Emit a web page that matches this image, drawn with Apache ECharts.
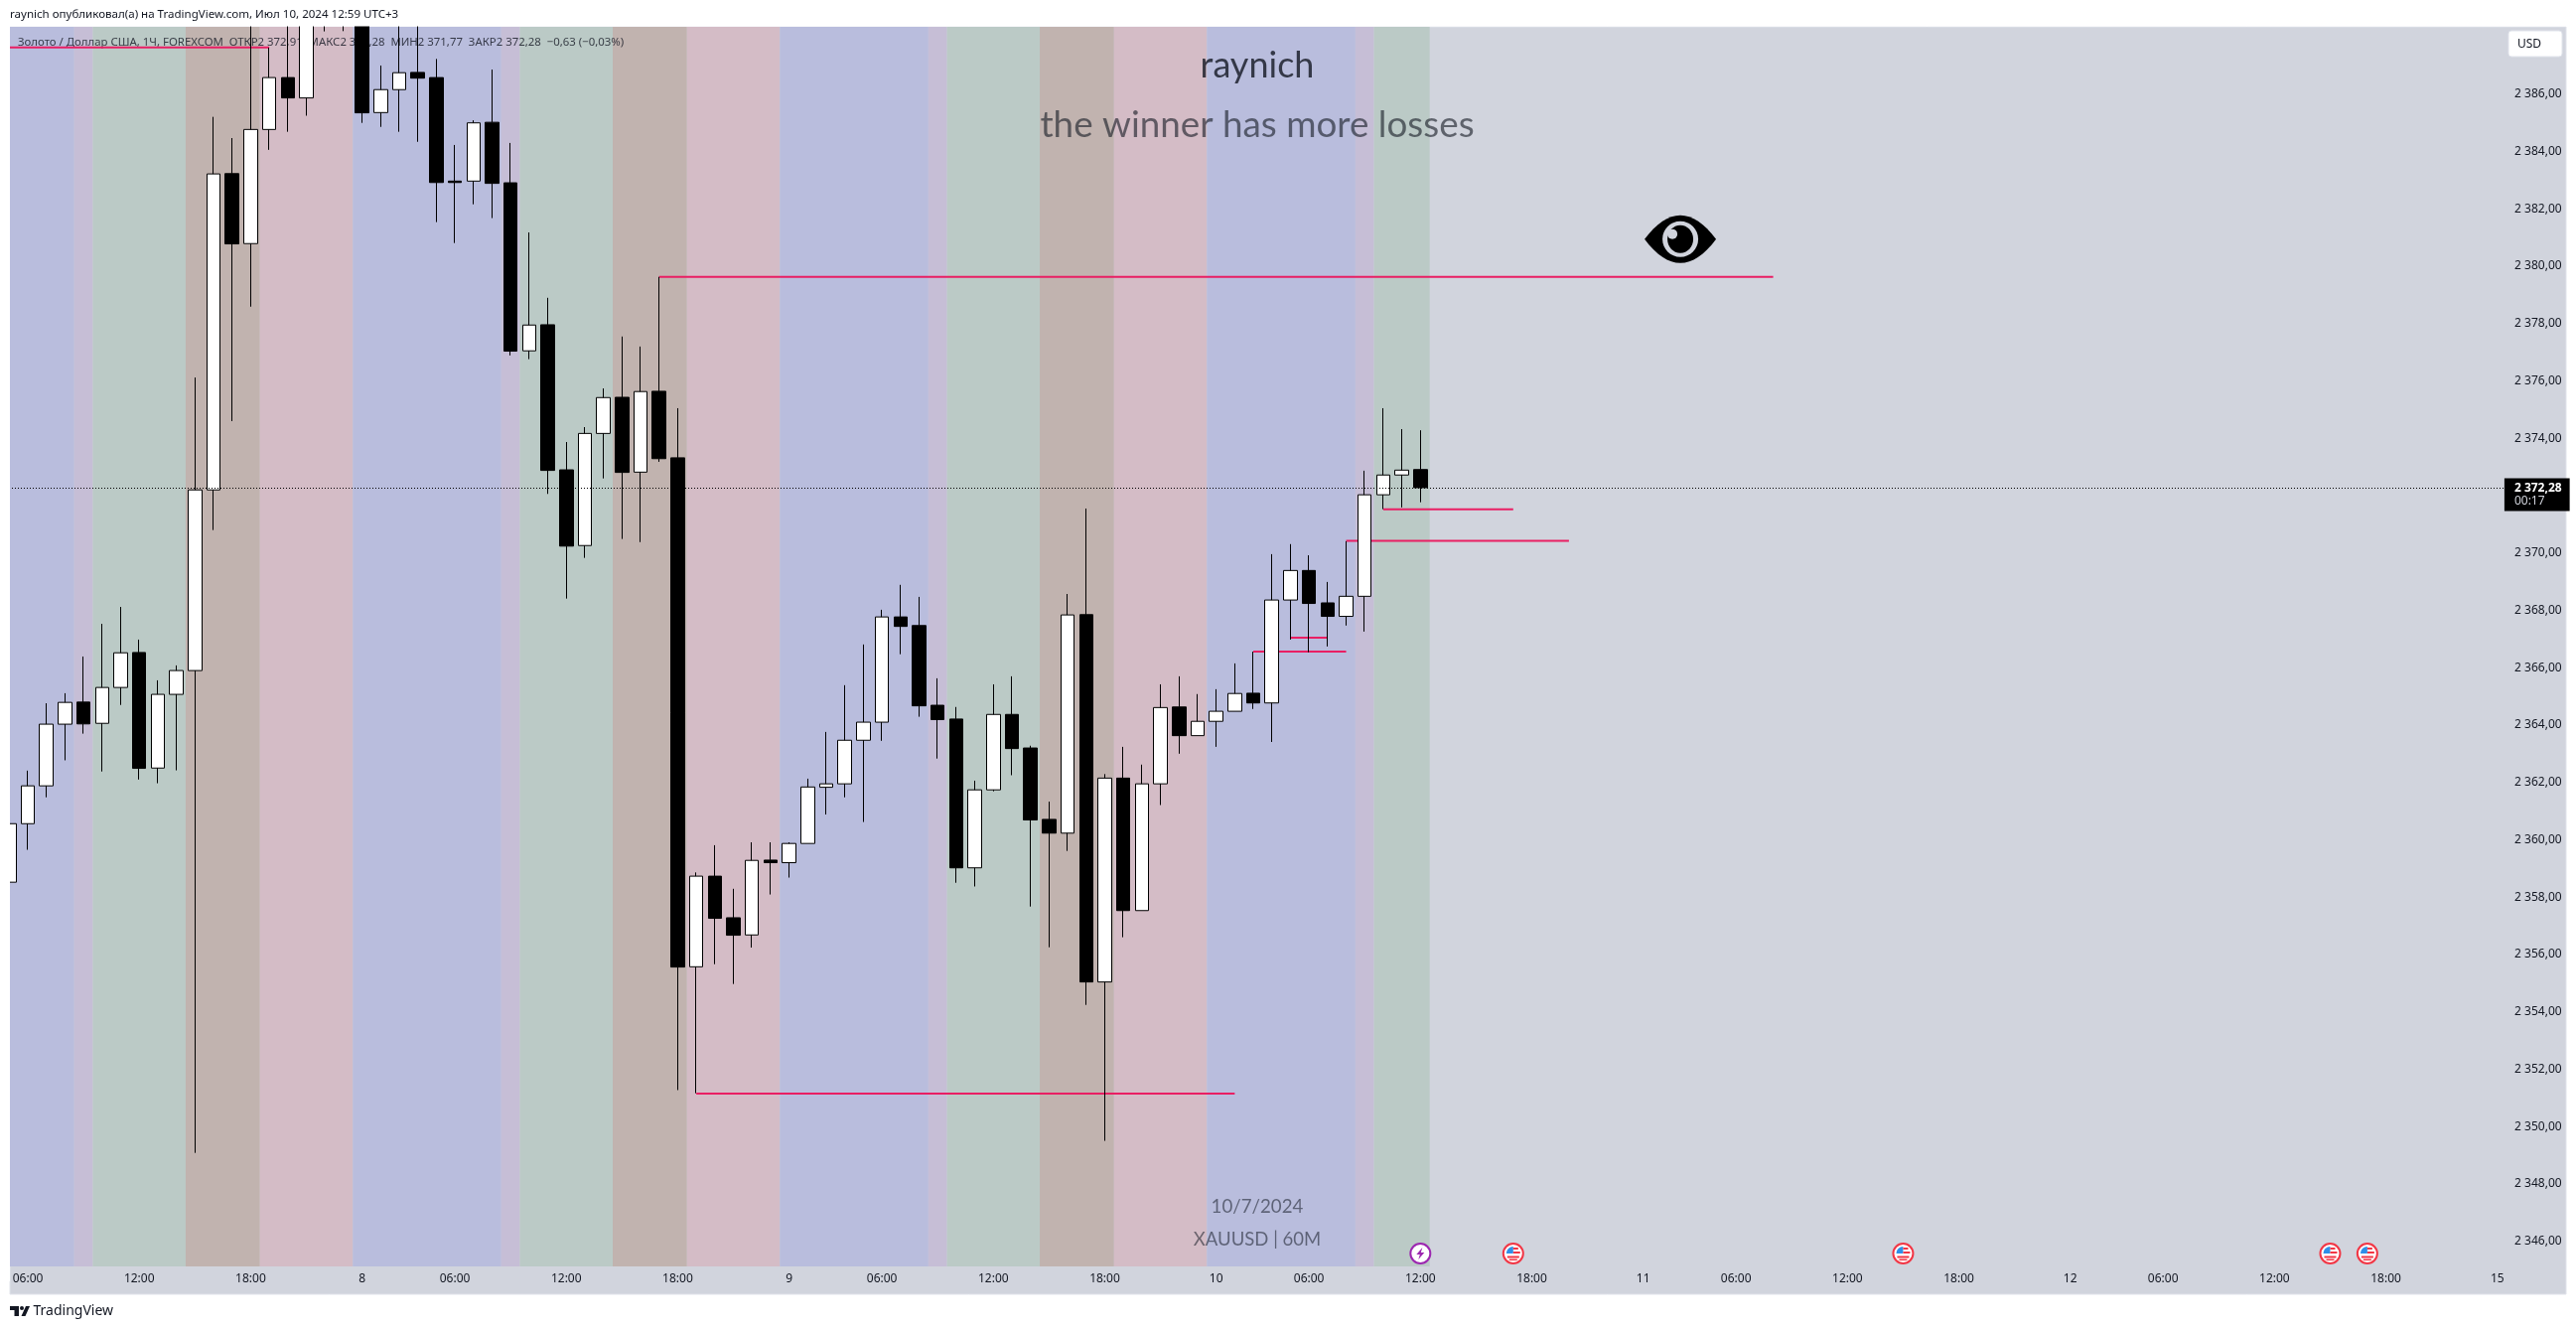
<!DOCTYPE html>
<html>
<head>
    <meta charset="utf-8"/>
    <script src="https://cdn.jsdelivr.net/npm/echarts@6/dist/echarts.min.js"></script>
    <style>html, body { margin: 0; padding: 0; background: #fff; }</style>
</head>
<body>
<div id="main" style="width: 2594px;height:1338px;"></div>
<script type="text/javascript">
    // XAUUSD 60M, one entry per bar (bars 17-18 and a few highs run off the top of the picture, those are guesses)
    var barOpen = [2358.52,2360.56,2361.88,2364.03,2364.80,2364.06,2365.31,2366.53,2362.50,2365.07,2365.90,2372.20,2383.23,2380.79,2384.77,2386.58,2385.87,2389.63,2390.67,2390.20,
        2385.36,2386.16,2386.76,2386.58,2382.97,2382.97,2385.02,2382.91,2377.05,2377.96,2372.90,2370.26,2374.17,2375.43,2372.82,2375.64,2373.32,2355.57,2358.73,2357.28,
        2356.68,2359.29,2359.20,2359.87,2361.83,2361.95,2363.47,2364.10,2367.77,2367.47,2364.69,2364.21,2359.02,2361.74,2364.37,2363.20,2360.71,2360.23,2367.85,2355.04,
        2362.15,2357.53,2361.95,2364.63,2363.63,2364.13,2364.48,2365.11,2364.77,2368.36,2369.39,2368.26,2367.79,2368.49,2372.03,2372.72,2372.91];
    var barClose = [2360.56,2361.88,2364.03,2364.79,2364.04,2365.31,2366.52,2362.49,2365.07,2365.90,2372.20,2383.22,2380.78,2384.77,2386.58,2385.87,2389.63,2390.67,2390.20,2385.35,
        2386.16,2386.75,2386.56,2382.92,2382.92,2385.00,2382.89,2377.04,2377.95,2372.88,2370.24,2374.17,2375.42,2372.81,2375.63,2373.29,2355.56,2358.73,2357.26,2356.67,
        2359.28,2359.20,2359.87,2361.84,2361.95,2363.47,2364.10,2367.77,2367.44,2364.67,2364.19,2359.02,2361.74,2364.37,2363.18,2360.69,2360.23,2367.84,2355.04,2362.15,
        2357.53,2361.95,2364.61,2363.63,2364.13,2364.48,2365.10,2364.77,2368.36,2369.39,2368.24,2367.79,2368.49,2372.03,2372.72,2372.89,2372.28];
    var barLow = [2358.52,2359.65,2361.48,2362.77,2363.70,2362.38,2364.70,2362.10,2361.97,2362.42,2349.08,2370.80,2374.60,2378.59,2384.06,2384.69,2385.25,2388.19,2388.20,2385.00,
        2384.86,2384.69,2384.34,2381.54,2380.81,2382.16,2381.68,2376.89,2376.76,2372.06,2368.41,2369.83,2372.60,2370.49,2370.38,2373.18,2351.27,2351.16,2355.66,2354.97,
        2356.24,2358.09,2358.68,2359.87,2360.88,2361.48,2360.62,2363.45,2366.47,2364.29,2362.83,2358.50,2358.37,2361.69,2362.25,2357.67,2356.25,2359.61,2354.24,2349.50,
        2356.60,2357.53,2361.21,2363.00,2363.63,2363.24,2364.48,2364.56,2363.41,2366.98,2366.54,2366.74,2367.47,2367.26,2371.53,2371.59,2371.77];
    var barHigh = [2360.56,2362.41,2364.76,2365.11,2366.39,2367.53,2368.12,2366.98,2365.56,2366.08,2376.12,2385.21,2384.47,2389.60,2387.62,2389.20,2390.20,2391.40,2391.10,2390.70,
        2387.00,2389.00,2389.40,2387.23,2384.23,2385.09,2386.86,2384.30,2381.18,2378.90,2373.87,2374.39,2375.74,2377.55,2377.20,2379.63,2375.05,2358.86,2359.81,2358.29,
        2359.91,2359.91,2359.91,2362.13,2363.76,2365.39,2366.81,2368.02,2368.89,2368.47,2365.63,2364.63,2362.06,2365.42,2365.70,2363.28,2361.33,2368.57,2371.55,2362.29,
        2363.24,2362.62,2365.42,2365.70,2365.08,2365.25,2366.15,2366.56,2369.96,2370.31,2369.92,2368.99,2370.41,2372.87,2375.05,2374.32,2374.28];
    var barCount = 135;
    var lastClose = 2372.28;
    var countdown = '00:17';

    // time scale
    var tickBars = [1,7,13,19,24,30,36,42,47,53,59,65,70,76,82,88,93,99,105,111,116,122,128,134];
    var tickLabels = ['06:00','12:00','18:00','8','06:00','12:00','18:00','9','06:00','12:00','18:00','10','06:00','12:00','18:00','11','06:00','12:00','18:00','12','06:00','12:00','18:00','15'];
    var priceTicks = [2346,2348,2350,2352,2354,2356,2358,2360,2362,2364,2366,2368,2370,2374,2376,2378,2380,2382,2384,2386];

    // session colour blocks behind the candles
    var sessionFirst = [0,4,5,10,14,19,27,28,33,37,42,50,51,56,60,65,73,74];
    var sessionLast = [3,4,9,13,18,26,27,32,36,41,49,50,55,59,64,72,73,76];
    var sessionKind = ['asia','gap','london','overlap','ny','asia','gap','london','overlap','ny','asia','gap','london','overlap','ny','asia','gap','london'];

    // hand drawn levels
    var levelFirst = [0,35,37,74,72,69,67];
    var levelLast = [14,95,66,81,84,71,72];
    var levelPrice = [2387.63,2379.63,2351.15,2371.52,2370.42,2367.05,2366.56];

    // news markers along the bottom
    var newsBars = [81,102,125,127];
    var flashBars = [76];
    var markerPrice = 2345.57;
    var eyeBar = [90];
    var eyePrice = 2380.95;

    var sessionColors = { asia: '#b9bddd', gap: '#c6bed6', london: '#bbcac6', overlap: '#c1b3af', ny: '#d4bcc6' };
    var panelColor = '#d1d4dd';
    var textColor = '#131722';
    var uiFont = '"Noto Sans", sans-serif';
    var markFont = 'Lato, sans-serif';

    function priceText(v) {
        var s = v.toFixed(2).replace('.', ',');
        return s.charAt(0) + ' ' + s.slice(1);
    }

    var chartDom = document.getElementById('main');
    var myChart = echarts.init(chartDom);

    function renderSession(params, api) {
        var half = api.size([1, 0])[0] / 2;
        var x0 = api.coord([api.value(0), 2360])[0] - half;
        var x1 = api.coord([api.value(1), 2360])[0] + half;
        return {
            type: 'rect',
            shape: { x: x0, y: params.coordSys.y, width: x1 - x0, height: params.coordSys.height },
            style: { fill: sessionColors[sessionKind[params.dataIndex]] }
        };
    }

    function renderEye(params, api) {
        var p = api.coord([api.value(0), api.value(1)]);
        return {
            type: 'group', x: p[0], y: p[1],
            children: [
                { type: 'path', shape: { pathData: 'M0 24C12 8 24 0 36 0C48 0 60 8 72 24C60 40 48 48 36 48C24 48 12 40 0 24Z', x: -36, y: -24, width: 72, height: 48, layout: 'cover' }, style: { fill: '#000' } },
                { type: 'ellipse', shape: { cx: 0, cy: 0, rx: 18, ry: 18 }, style: { fill: panelColor } },
                { type: 'ellipse', shape: { cx: 0, cy: 0, rx: 13, ry: 14 }, style: { fill: '#000' } },
                { type: 'circle', shape: { cx: -8, cy: -5, r: 5 }, style: { fill: panelColor } }
            ]
        };
    }

    function renderFlag(params, api) {
        var p = api.coord([api.value(0), api.value(1)]);
        var red = '#f23645';
        return {
            type: 'group', x: p[0], y: p[1],
            children: [
                { type: 'circle', shape: { cx: 0, cy: 0, r: 10 }, style: { fill: '#fff', stroke: red, lineWidth: 2 } },
                { type: 'path', shape: { pathData: 'M-7 0A7 7 0 0 1 0 -7L0 0Z', x: -7, y: -7, width: 7, height: 7, layout: 'cover' }, style: { fill: '#2f8fe8' } },
                { type: 'rect', shape: { x: 0, y: -6, width: 5, height: 2 }, style: { fill: red } },
                { type: 'rect', shape: { x: 0, y: -2, width: 7, height: 2 }, style: { fill: red } },
                { type: 'rect', shape: { x: -6, y: 2.5, width: 12, height: 2 }, style: { fill: red } },
                { type: 'rect', shape: { x: -4, y: 5.5, width: 8, height: 1.5 }, style: { fill: red } }
            ]
        };
    }

    function renderFlash(params, api) {
        var p = api.coord([api.value(0), api.value(1)]);
        return {
            type: 'group', x: p[0], y: p[1],
            children: [
                { type: 'circle', shape: { cx: 0, cy: 0, r: 10 }, style: { fill: '#fff', stroke: '#9c27b0', lineWidth: 2 } },
                { type: 'polygon', shape: { points: [[2, -6], [-4, 1], [-0.5, 1], [-2, 6], [4, -1], [0.5, -1]] }, style: { fill: '#9c27b0' } }
            ]
        };
    }

    var levelSeries = levelPrice.map(function (price, i) {
        return {
            type: 'line',
            data: [[levelFirst[i], price], [levelLast[i], price]],
            symbol: 'none',
            silent: true,
            z: 3,
            lineStyle: { color: '#e91e63', width: 2 }
        };
    });

    var option = {
        animation: false,
        backgroundColor: '#ffffff',
        grid: { left: -2.4, width: 2526.5, top: 27, height: 1248 },
        xAxis: {
            type: 'category',
            data: Array.from({ length: barCount }, function (_, i) { return i; }),
            axisLine: { show: false },
            axisTick: { show: false },
            splitLine: { show: false },
            axisLabel: {
                interval: function (index) { return tickBars.indexOf(index) >= 0; },
                formatter: function (value, index) { return tickLabels[tickBars.indexOf(index)]; },
                color: textColor,
                fontFamily: uiFont,
                fontSize: 12,
                margin: 7,
                hideOverlap: false
            }
        },
        yAxis: {
            type: 'value',
            position: 'right',
            min: 2345.12,
            max: 2388.35,
            axisLine: { show: false },
            axisTick: { show: false },
            splitLine: { show: false },
            axisLabel: {
                customValues: priceTicks,
                formatter: function (v) { return priceText(v); },
                color: textColor,
                fontFamily: uiFont,
                fontSize: 12,
                margin: 8
            }
        },
        graphic: {
            elements: [
                { type: 'rect', silent: true, z: -10, shape: { x: 10, y: 27, width: 2574, height: 1276 }, style: { fill: panelColor, stroke: '#e0e3eb', lineWidth: 1 } },
                // candles running off the chart are cut by these two white strips
                { type: 'rect', silent: true, z: 100, shape: { x: 0, y: 0, width: 10, height: 1290 }, style: { fill: '#ffffff' } },
                { type: 'rect', silent: true, z: 100, shape: { x: 0, y: 0, width: 2594, height: 26.5 }, style: { fill: '#ffffff' } },
                { type: 'text', silent: true, z: 101, x: 10, y: 15, style: { text: 'raynich опубликовал(а) на TradingView.com, Июл 10, 2024 12:59 UTC+3', font: '11.55px ' + uiFont, fill: textColor, verticalAlign: 'middle' } },
                { type: 'text', silent: true, z: 2, x: 18, y: 42.5, style: { text: 'Золото / Доллар США, 1Ч, FOREXCOM  ОТКР2 372,91  МАКС2 374,28  МИН2 371,77  ЗАКР2 372,28  −0,63 (−0,03%)', font: '11.4px ' + uiFont, fill: 'rgba(19,23,34,0.8)', verticalAlign: 'middle' } },
                { type: 'text', silent: true, z: 2, x: 1266, y: 66.5, style: { text: 'raynich', font: '36px ' + markFont, fill: 'rgba(19,23,34,0.8)', align: 'center', verticalAlign: 'middle' } },
                { type: 'text', silent: true, z: 2, x: 1266, y: 126.5, style: { text: 'the winner has more losses', font: '36.8px ' + markFont, fill: 'rgba(19,23,34,0.6)', align: 'center', verticalAlign: 'middle' } },
                { type: 'text', silent: true, z: 2, x: 1266, y: 1215, style: { text: '10/7/2024', font: '18.7px ' + markFont, fill: 'rgba(19,23,34,0.55)', align: 'center', verticalAlign: 'middle' } },
                { type: 'text', silent: true, z: 2, x: 1266, y: 1248, style: { text: 'XAUUSD | 60M', font: '18.5px ' + markFont, fill: 'rgba(19,23,34,0.55)', align: 'center', verticalAlign: 'middle' } },
                { type: 'rect', silent: true, z: 5, shape: { x: 2526, y: 31, width: 54, height: 26, r: 3 }, style: { fill: '#ffffff', stroke: '#e0e3eb', lineWidth: 1 } },
                { type: 'text', silent: true, z: 6, x: 2535, y: 44.5, style: { text: 'USD', font: '12px ' + uiFont, fill: textColor, verticalAlign: 'middle' } },
                // TradingView logo in the footer
                { type: 'rect', silent: true, shape: { x: 10, y: 1315, width: 9, height: 4 }, style: { fill: textColor } },
                { type: 'rect', silent: true, shape: { x: 14.5, y: 1315, width: 4.5, height: 10 }, style: { fill: textColor } },
                { type: 'circle', silent: true, shape: { cx: 22, cy: 1317, r: 2 }, style: { fill: textColor } },
                { type: 'polygon', silent: true, shape: { points: [[26, 1315], [30, 1315], [25.5, 1325], [21.5, 1325]] }, style: { fill: textColor } },
                { type: 'text', silent: true, x: 33.5, y: 1320.5, style: { text: 'TradingView', font: '14px ' + uiFont, fill: textColor, verticalAlign: 'middle' } }
            ]
        },
        series: [
            {
                type: 'custom',
                z: 1,
                silent: true,
                renderItem: renderSession,
                encode: { x: 0, y: 2 },
                data: sessionFirst.map(function (first, i) { return [first, sessionLast[i], 2360]; })
            },
            {
                type: 'candlestick',
                z: 4,
                silent: true,
                barWidth: 14,
                data: barOpen.map(function (o, i) { return [o, barClose[i], barLow[i], barHigh[i]]; }),
                itemStyle: { color: '#ffffff', color0: '#000000', borderColor: '#000000', borderColor0: '#000000', borderWidth: 1 },
                markLine: {
                    silent: true,
                    symbol: 'none',
                    data: [{ yAxis: lastClose }],
                    lineStyle: { color: '#000000', type: [1, 2], width: 1 },
                    label: {
                        position: 'end',
                        distance: 0,
                        offset: [-2.2, 7],
                        backgroundColor: '#000000',
                        padding: [3, 8, 3, 10],
                        formatter: '{a|' + priceText(lastClose) + '}\n{b|' + countdown + '}',
                        rich: {
                            a: { color: '#ffffff', fontFamily: uiFont, fontSize: 12, fontWeight: 'bold', lineHeight: 14, align: 'left' },
                            b: { color: '#d1d4dc', fontFamily: uiFont, fontSize: 12, lineHeight: 13, align: 'left' }
                        }
                    }
                }
            },
            {
                type: 'custom',
                z: 5,
                silent: true,
                clip: false,
                renderItem: renderEye,
                encode: { x: 0, y: 1 },
                data: eyeBar.map(function (b) { return [b, eyePrice]; })
            },
            {
                type: 'custom',
                z: 5,
                silent: true,
                clip: false,
                renderItem: renderFlag,
                encode: { x: 0, y: 1 },
                data: newsBars.map(function (b) { return [b, markerPrice]; })
            },
            {
                type: 'custom',
                z: 5,
                silent: true,
                clip: false,
                renderItem: renderFlash,
                encode: { x: 0, y: 1 },
                data: flashBars.map(function (b) { return [b, markerPrice]; })
            }
        ].concat(levelSeries)
    };

    option && myChart.setOption(option);
</script>
</body>
</html>
